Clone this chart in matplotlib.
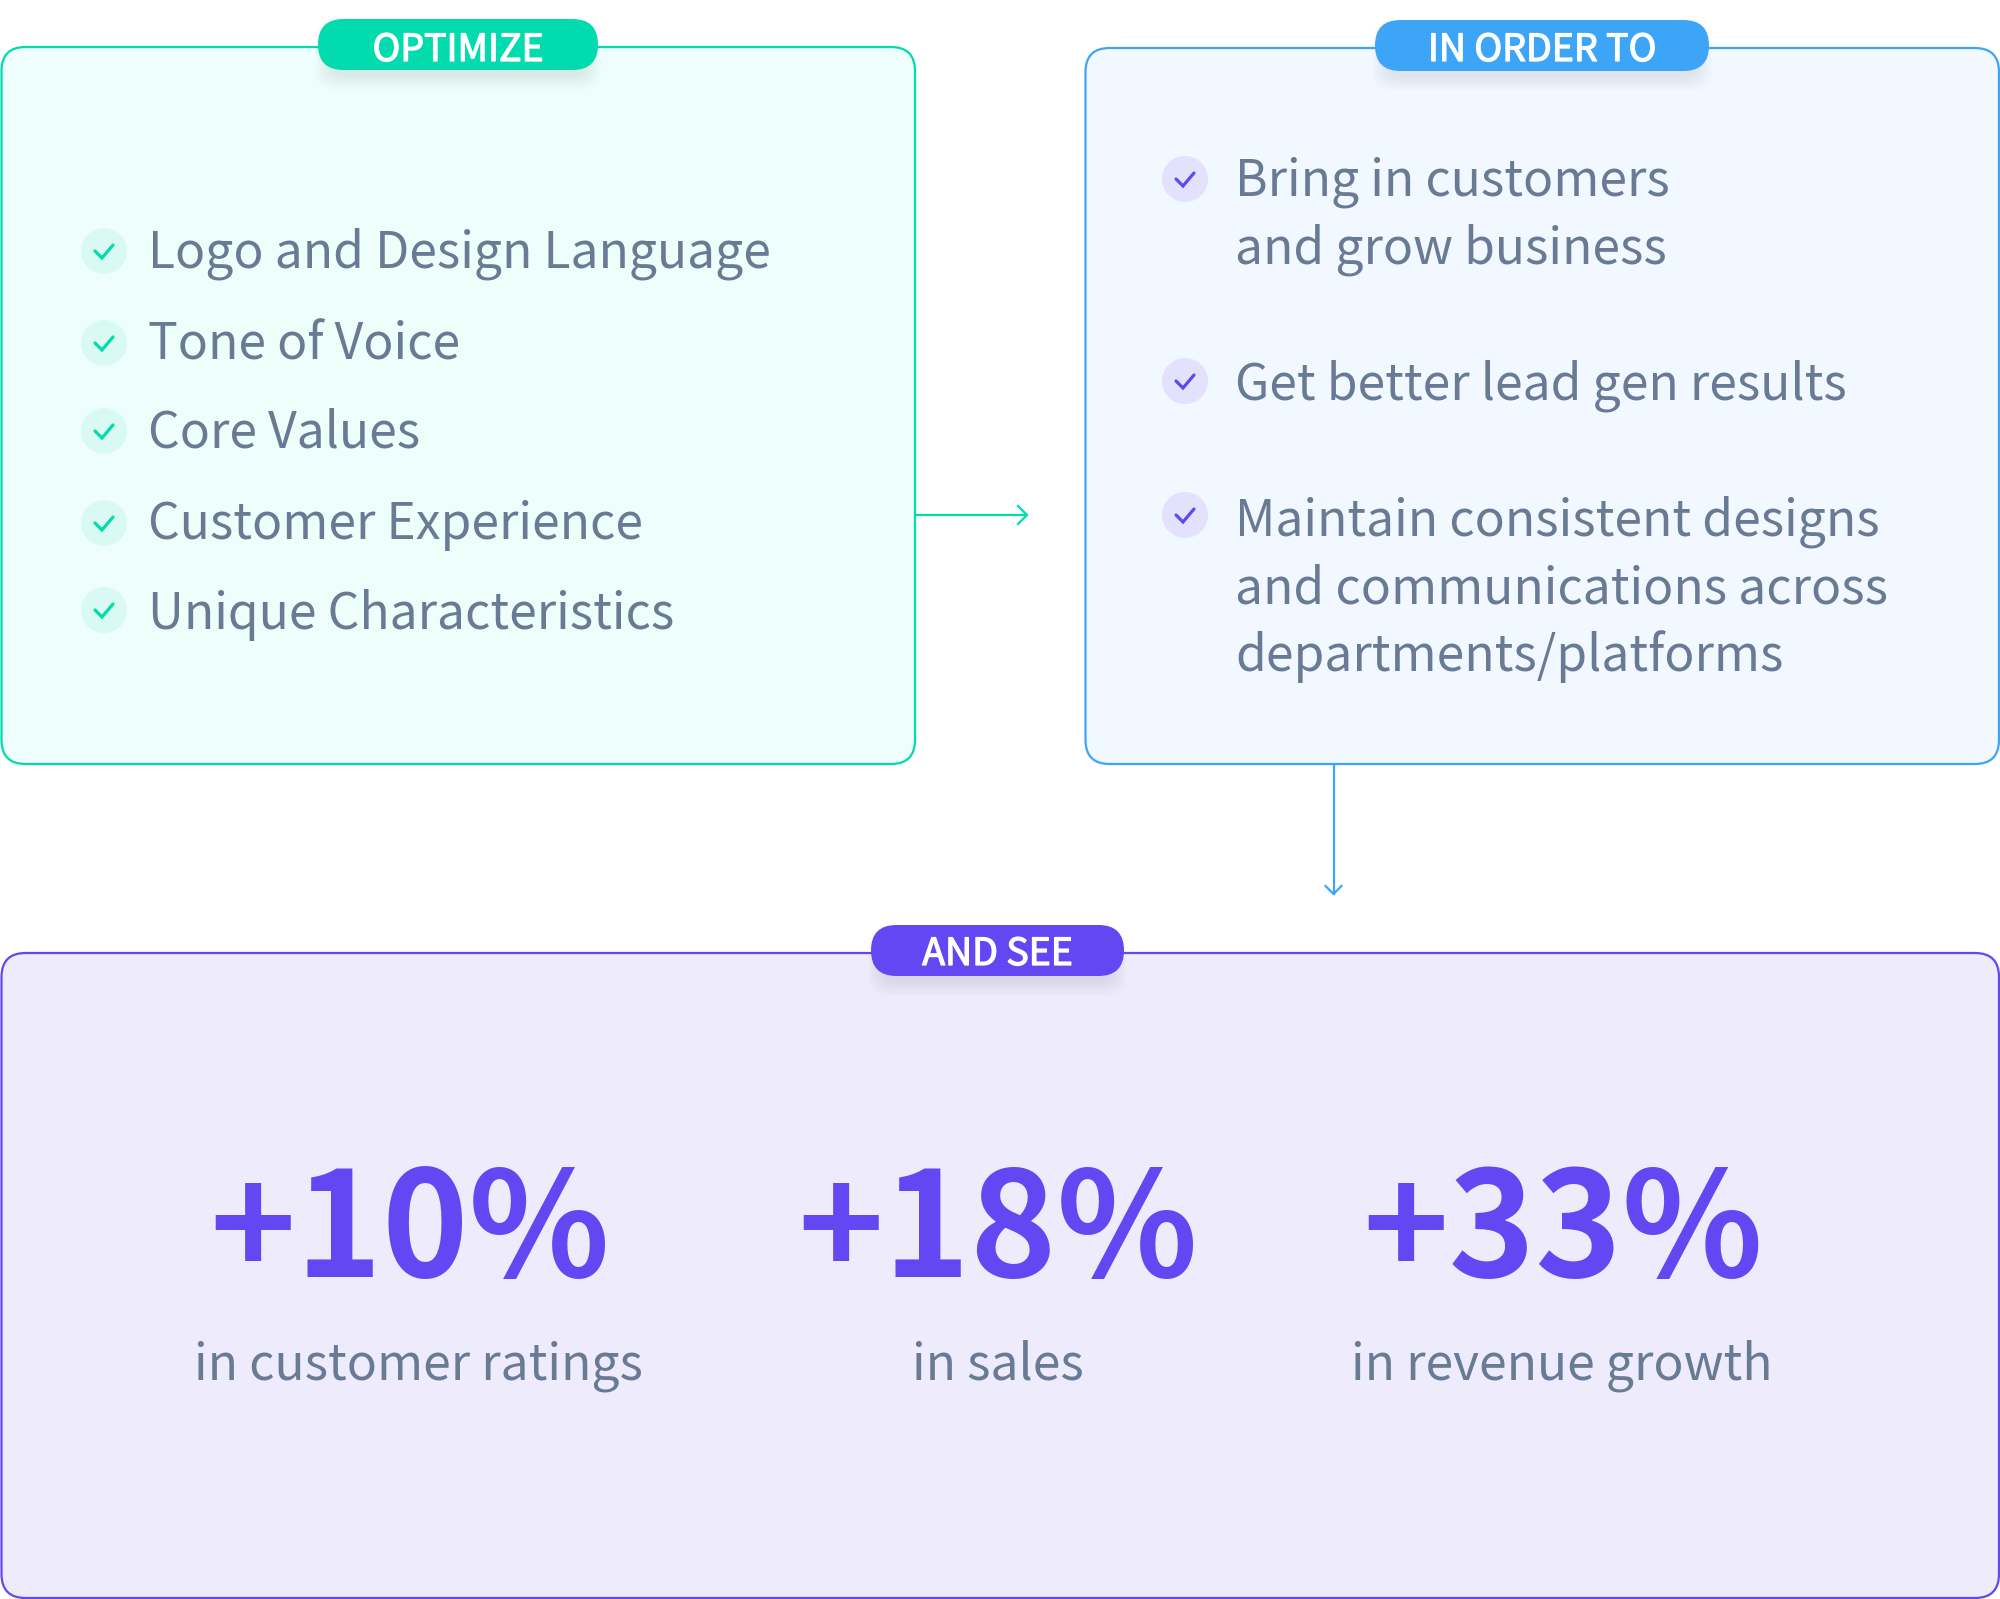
"""Brand optimisation flow: three rounded panels with checklists and result figures."""

import matplotlib

matplotlib.use("Agg")
import matplotlib.patheffects as path_effects
import matplotlib.pyplot as plt
from matplotlib.patches import Circle, FancyBboxPatch

plt.rcParams["font.family"] = ["Noto Sans CJK JP", "DejaVu Sans"]

GREEN = "#02DBAD"
BLUE = "#3DA5F8"
PURPLE = "#6347F2"
TEXT = "#697A95"

optimize_items = [
    "Logo and Design Language",
    "Tone of Voice",
    "Core Values",
    "Customer Experience",
    "Unique Characteristics",
]
goal_items = [
    ["Bring in customers", "and grow business"],
    ["Get better lead gen results"],
    ["Maintain consistent designs", "and communications across", "departments/platforms"],
]
result_values = ["+10%", "+18%", "+33%"]
result_labels = ["in customer ratings", "in sales", "in revenue growth"]


def panel(axis, x0, y0, x1, y1, edge, fill):
    box = FancyBboxPatch(
        (x0 + 24, y0 + 24), x1 - x0 - 48, y1 - y0 - 48,
        boxstyle="round,pad=24,rounding_size=24",
        facecolor=fill, edgecolor=edge, linewidth=1.6, zorder=1,
    )
    axis.add_patch(box)


def badge(axis, x0, y0, x1, y1, color, label, baseline):
    height = y1 - y0
    radius = height / 2
    # soft shadow, built from stacked translucent pills
    for grow in range(30, 0, -3):
        shadow = FancyBboxPatch(
            (x0 + radius - grow / 2 + 6, y0 + radius + 11 - grow / 2), x1 - x0 - height + grow - 12, grow,
            boxstyle=f"round,pad={radius - 6},rounding_size={radius - 6}",
            facecolor="#20304a", edgecolor="none", alpha=0.009, zorder=2,
        )
        axis.add_patch(shadow)
    pill = FancyBboxPatch(
        (x0 + radius, y0 + radius), x1 - x0 - height, 0.01,
        boxstyle=f"round,pad={radius},rounding_size={radius}",
        facecolor=color, edgecolor="none", zorder=3,
    )
    axis.add_patch(pill)
    text = axis.text((x0 + x1) / 2, baseline, label, color="white", fontsize=27,
                     ha="center", va="baseline", zorder=4)
    # the source badge text sits between regular and bold
    text.set_path_effects([path_effects.withStroke(linewidth=0.9, foreground="white")])


def check(axis, cx, cy, disc, color):
    axis.add_patch(Circle((cx, cy), 23, facecolor=disc, edgecolor="none", zorder=2))
    axis.plot([cx - 9, cx - 2, cx + 9], [cy, cy + 7, cy - 6], color=color, linewidth=2.3,
              solid_capstyle="round", solid_joinstyle="miter", zorder=3)


figure, axis = plt.subplots(figsize=(20, 15.99), dpi=100)
figure.subplots_adjust(0, 0, 1, 1)
axis.set_xlim(0, 2000)
axis.set_ylim(1599, 0)
axis.axis("off")

panel(axis, 1.5, 47, 915, 764, GREEN, "#EDFEFB")
panel(axis, 1085.5, 48, 1999, 764, BLUE, "#F1F8FF")
panel(axis, 1.5, 953, 1999, 1598, PURPLE, "#EEEBFD")

badge(axis, 318, 19, 598, 70, GREEN, "OPTIMIZE", 61)
badge(axis, 1375, 20, 1709, 71, BLUE, "IN ORDER TO", 61)
badge(axis, 871, 925, 1124, 976, PURPLE, "AND SEE", 965)

# left checklist
for item, cy, baseline in zip(optimize_items, [251, 343, 431, 523, 610], [268, 359, 448, 539, 629]):
    check(axis, 104, cy, "#D9FAF3", GREEN)
    axis.text(148, baseline, item, color=TEXT, fontsize=35.8, va="baseline", zorder=4)

# right checklist
for lines, cy, baseline in zip(goal_items, [179, 381, 515], [195.5, 399.5, 535]):
    check(axis, 1185, cy, "#E3E1FD", PURPLE)
    for index, line in enumerate(lines):
        axis.text(1235, baseline + index * 68, line, color=TEXT, fontsize=35.8, va="baseline", zorder=4)

# results row
for value, label, value_x, label_x in zip(result_values, result_labels, [410, 998, 1563], [418, 998, 1562]):
    axis.text(value_x, 1277, value, color=PURPLE, fontsize=105.5, fontweight="bold",
              ha="center", va="baseline", zorder=4)
    axis.text(label_x, 1380, label, color=TEXT, fontsize=35.8, ha="center", va="baseline", zorder=4)

# connector arrows
axis.plot([916, 1027], [515, 515], color=GREEN, linewidth=1.6, zorder=1)
axis.plot([1018, 1027, 1018], [506, 515, 524], color=GREEN, linewidth=1.6, zorder=1)
axis.plot([1333.5, 1333.5], [765, 894], color=BLUE, linewidth=1.6, zorder=1)
axis.plot([1325.5, 1333.5, 1341.5], [886, 894, 886], color=BLUE, linewidth=1.6, zorder=1)

figure.savefig("out.png", dpi=100, facecolor="white")
plt.close(figure)
